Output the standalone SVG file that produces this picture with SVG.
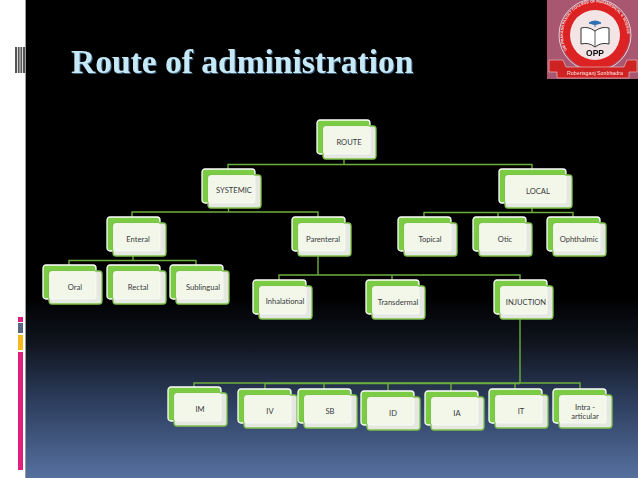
<svg xmlns="http://www.w3.org/2000/svg" xmlns:xlink="http://www.w3.org/1999/xlink" width="638" height="478" viewBox="0 0 638 478">
<style>
.lbl{font-family:"Lato","Open Sans",sans-serif;font-size:7.6px;fill:#3a3a3a;text-anchor:middle}
.con{fill:none;stroke:#6dae3e;stroke-width:1.4}
.back{fill:#7ccb45;stroke:#fff;stroke-width:1.3}
.front{fill:#e5e7e1;stroke:#7fc24a;stroke-width:1.3}
.inner{fill:#f2f7ea;stroke:#fbfdf7;stroke-width:.8}
.title{font-family:"Liberation Serif",serif;font-weight:bold;font-size:33.5px;fill:#c6e9f7;filter:drop-shadow(1px 1px 0.6px #3f5f7c)}
</style>
<defs>
<linearGradient id="bg" x1="0" y1="0" x2="0" y2="1">
<stop offset="0" stop-color="#000"/><stop offset=".62" stop-color="#000"/><stop offset=".72" stop-color="#10151f"/><stop offset=".85" stop-color="#2f4162"/><stop offset="1" stop-color="#56709f"/>
</linearGradient>
<filter id="soft" x="-5%" y="-5%" width="110%" height="110%"><feGaussianBlur stdDeviation=".45"/></filter>
<g id="card">
<rect class="back" x="0" y="0" width="53" height="34" rx="3"/>
<rect class="front" x="6" y="6" width="53" height="33" rx="3"/>
<rect class="inner" x="6.6" y="6.6" width="46.4" height="27.4" rx="2"/>
</g>
<path id="arc" d="M567 50A32 32 0 1 1 623 50"/>
</defs>
<rect width="638" height="478" fill="#fff"/>
<rect x="25" y="0" width="613" height="478" fill="url(#bg)"/>
<rect x="25" y="0" width="1" height="478" fill="#999"/>
<g id="decor">
<rect x="15" y="47" width="10" height="26" fill="#555"/>
<path d="M17.5 47V73M20 47V73M22.5 47V73" stroke="#ddd" stroke-width="1" fill="none"/>
<rect x="18" y="317" width="5" height="5" fill="#df1f7f"/>
<rect x="18" y="323" width="5" height="10" fill="#56677f"/>
<rect x="18" y="335" width="5" height="15" fill="#f5b81f"/>
<rect x="18" y="352" width="5" height="118" fill="#df1f7f"/>
</g>
<text class="title" x="71" y="73">Route of administration</text>
<g id="logo" filter="url(#soft)">
<rect x="547" y="0" width="91" height="79" fill="#a9566f"/>
<circle cx="595" cy="35" r="36" fill="none" stroke="#e9c9cf" stroke-width="1"/>
<circle cx="595" cy="35" r="34.500" fill="#dc2320"/>
<circle cx="595" cy="35" r="25" fill="#f3e4e6"/>
<text font-family="Liberation Sans,sans-serif" font-size="3.7" font-weight="bold" fill="#f6e4e4"><textPath xlink:href="#arc" href="#arc">OM PRAKASH PANDEY COLLEGE OF PARAMEDICAL &amp; SCIENCE</textPath></text>
<path d="M595 21v6M589 23q6 -4 12 0q-6 3 -12 0z" fill="#2f6fb5" stroke="#2f6fb5"/>
<path d="M595 31q-7 -5 -14 -3v16q8 -2 14 3q6 -5 14 -3v-16q-7 -2 -14 3z" fill="#fff" stroke="#333" stroke-width="1"/>
<path d="M595 31v16" stroke="#333" stroke-width=".8"/>
<text x="595" y="56" font-family="Liberation Sans,sans-serif" font-weight="bold" font-size="8.500" fill="#111" text-anchor="middle">OPP</text>
<path d="M549 60h14l3 7h58l3 -7h10v12h-8v6h-72v-6h-8z" fill="#cf2320" stroke="#eccdd0" stroke-width=".6"/>
<text x="595" y="75" font-family="Liberation Sans,sans-serif" font-size="5.300" fill="#fbe7e7" text-anchor="middle">Robertsganj Sonbhadra</text>
</g>
<g id="connectors">
<path class="con" d="M344 159V164.500M228 169V164.500H532V169"/>
<path class="con" d="M228.500 207V212M132 217V212H318V217"/>
<path class="con" d="M532 207V212.500M424 217V212.500H573V217M498 212.500V217"/>
<path class="con" d="M133 256V260.500M69 265V260.500H196V265"/>
<path class="con" d="M318 256V275M279 280V275H520V280M392 275V280"/>
<path class="con" d="M520 319V383.500M194 387V383H580V389M265 383V389M324 383V389M388 383V391M451 383V391M515 383V389"/>
<path class="con" d="M265 383.500H520" stroke-width="2.200"/>
</g>
<g id="node-route"><use href="#card" x="317" y="120"/><text class="lbl" x="349" y="145">ROUTE</text></g>
<g id="node-systemic"><use href="#card" x="202" y="169"/><text class="lbl" x="234" y="193">SYSTEMIC</text></g>
<g id="node-local">
<rect class="back" x="499" y="169" width="67" height="34" rx="3"/>
<rect class="front" x="505" y="175" width="67" height="33" rx="3"/>
<rect class="inner" x="505.600" y="175.600" width="60.400" height="27.400" rx="2"/>
<text class="lbl" x="538" y="194">LOCAL</text></g>
<g id="node-enteral"><use href="#card" x="107" y="217"/><text class="lbl" x="138" y="242">Enteral</text></g>
<g id="node-parenteral"><use href="#card" x="292" y="217"/><text class="lbl" x="323" y="242">Parenteral</text></g>
<g id="node-topical"><use href="#card" x="398" y="217"/><text class="lbl" x="430" y="242">Topical</text></g>
<g id="node-otic"><use href="#card" x="473" y="217"/><text class="lbl" x="505" y="242">Otic</text></g>
<g id="node-ophthalmic"><use href="#card" x="547" y="217"/><text class="lbl" x="579" y="242">Ophthalmic</text></g>
<g id="node-oral"><use href="#card" x="43" y="265"/><text class="lbl" x="75" y="290">Oral</text></g>
<g id="node-rectal"><use href="#card" x="107" y="265"/><text class="lbl" x="138" y="290">Rectal</text></g>
<g id="node-sublingual"><use href="#card" x="170" y="265"/><text class="lbl" x="203" y="290">Sublingual</text></g>
<g id="node-inhalational"><use href="#card" x="253" y="280"/><text class="lbl" x="285" y="304">Inhalational</text></g>
<g id="node-transdermal"><use href="#card" x="366" y="280"/><text class="lbl" x="398" y="305">Transdermal</text></g>
<g id="node-injuction"><use href="#card" x="494" y="280"/><text class="lbl" x="526" y="305">INJUCTION</text></g>
<g id="node-im"><use href="#card" x="168" y="387"/><text class="lbl" x="200" y="412">IM</text></g>
<g id="node-iv"><use href="#card" x="238" y="389"/><text class="lbl" x="270" y="414">IV</text></g>
<g id="node-sb"><use href="#card" x="298" y="389"/><text class="lbl" x="330" y="414">SB</text></g>
<g id="node-id"><use href="#card" x="361" y="391"/><text class="lbl" x="393" y="416">ID</text></g>
<g id="node-ia"><use href="#card" x="425" y="391"/><text class="lbl" x="457" y="416">IA</text></g>
<g id="node-it"><use href="#card" x="489" y="389"/><text class="lbl" x="521" y="414">IT</text></g>
<g id="node-intra"><use href="#card" x="553" y="389"/><text class="lbl" x="585" y="410">Intra -</text><text class="lbl" x="585" y="419">articular</text></g>
</svg>
